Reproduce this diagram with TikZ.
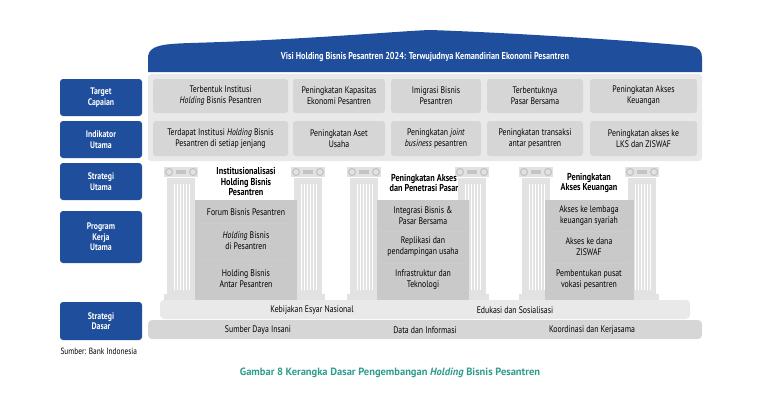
\documentclass[tikz,border=0pt]{standalone}
\usepackage{fontspec}
\setmainfont{PT Sans}[FakeStretch=0.82]
\newfontfamily\capfont{PT Sans}
\begin{document}
\begin{tikzpicture}[x=1pt,y=-1pt,
  lab/.style={fill=labblue,rounded corners=3pt,text=white,font=\fontsize{9.5}{10.5}\selectfont\bfseries,align=center,inner sep=0},
  cell/.style={fill=cellgray,rounded corners=3pt,font=\fontsize{9.5}{11}\selectfont,align=center,inner sep=0},
  hd/.style={font=\fontsize{10}{10.5}\selectfont\bfseries,align=center},
  prg/.style={font=\fontsize{9.5}{11}\selectfont,align=center}]
\definecolor{labblue}{HTML}{1F4E9C}
\definecolor{cellgray}{HTML}{D6D6D6}
\definecolor{panel}{HTML}{E9E9E9}
\definecolor{pil}{HTML}{E2E2E2}
\definecolor{pildark}{HTML}{C4C4C4}
\definecolor{prog}{HTML}{C9C9C9}
\definecolor{teal}{HTML}{2E9C8E}
\useasboundingbox (0,0) rectangle (766,410);
% roof
\fill[labblue] (148,72) -- (148,56) .. controls (150,46) and (160,44) .. (190,43) .. controls (300,40) and (400,31) .. (430,30) .. controls (520,33) and (650,42) .. (690,46) .. controls (700,47) and (702,52) .. (702,58) -- (702,72) -- cycle;
\node[text=white,font=\fontsize{10}{11}\selectfont\bfseries] (visi) at (425,57) {Visi Holding Bisnis Pesantren 2024: Terwujudnya Kemandirian Ekonomi Pesantren};
% panel
\fill[panel,rounded corners=3pt] (148,74) rectangle (702,161);
% left labels
\node[lab,minimum width=82,minimum height=37] (l1) at (101,97.5) {Target\\Capaian};
\node[lab,minimum width=82,minimum height=37] (l2) at (101,139.5) {Indikator\\Utama};
\node[lab,minimum width=82,minimum height=37] (l3) at (101,181.5) {Strategi\\Utama};
\node[lab,minimum width=82,minimum height=52] (l4) at (101,237) {Program\\Kerja\\Utama};
\node[lab,minimum width=82,minimum height=38] (l5) at (101,321) {Strategi\\Dasar};
% row cells
\node[cell,minimum width=135,minimum height=34] (a1) at (220.5,96) {Terbentuk Institusi\\\textit{Holding} Bisnis Pesantren};
\node[cell,minimum width=92,minimum height=34] (a2) at (339,96) {Peningkatan Kapasitas\\Ekonomi Pesantren};
\node[cell,minimum width=90,minimum height=34] (a3) at (436,96) {Imigrasi Bisnis\\Pesantren};
\node[cell,minimum width=96,minimum height=34] (a4) at (535,96) {Terbentuknya\\Pasar Bersama};
\node[cell,minimum width=107,minimum height=34] (a5) at (643.5,96) {Peningkatan Akses\\Keuangan};
\node[cell,minimum width=135,minimum height=35] (b1) at (220.5,138.5) {Terdapat Institusi \textit{Holding} Bisnis\\Pesantren di setiap jenjang};
\node[cell,minimum width=92,minimum height=35] (b2) at (339,138.5) {Peningkatan Aset\\Usaha};
\node[cell,minimum width=90,minimum height=35] (b3) at (436,138.5) {Peningkatan \textit{joint}\\\textit{business} pesantren};
\node[cell,minimum width=96,minimum height=35] (b4) at (535,138.5) {Peningkatan transaksi\\antar pesantren};
\node[cell,minimum width=107,minimum height=35] (b5) at (643.5,138.5) {Peningkatan akses ke\\LKS dan ZISWAF};
% pillars
\foreach \px in {181,308,364,472,536,642}{
  \fill[pil] (\px-17,167) rectangle (\px+17,177);
  \draw[pildark,line width=1.2] (\px-12,172) circle (3.5) (\px+12,172) circle (3.5);
  \fill[pildark] (\px-5,170) rectangle (\px+5,174);
  \fill[pil] (\px-14,178) rectangle (\px+14,294);
  \foreach \d in {-7,-4,-1,2,5,8}{\draw[white,line width=0.8] (\px+\d,184) -- (\px+\d,290);}
  \fill[pil] (\px-17,294) rectangle (\px+17,300);
}
% pillar headings
\node[hd] (h1) at (246,182) {Institusionalisasi\\Holding Bisnis\\Pesantren};
\node[hd] (h2) at (424,183) {Peningkatan Akses\\dan Penetrasi Pasar};
\node[hd] (h3) at (589,183) {Peningkatan\\Akses Keuangan};
% program boxes
\fill[prog] (195,200) rectangle (297,300);
\draw[white!80!black] (199,223) -- (293,223) (199,259) -- (293,259);
\node[prg] (p11) at (246,212) {Forum Bisnis Pesantren};
\node[prg] (p12) at (246,241) {\textit{Holding} Bisnis\\di Pesantren};
\node[prg] (p13) at (246,279) {Holding Bisnis\\Antar Pesantren};
\fill[prog] (377,200) rectangle (469,300);
\draw[white!80!black] (377,231) -- (469,231) (377,263) -- (469,263);
\node[prg] (p21) at (423,216) {Integrasi Bisnis \&\\Pasar Bersama};
\node[prg] (p22) at (423,247) {Replikasi dan\\pendampingan usaha};
\node[prg] (p23) at (423,280) {Infrastruktur dan\\Teknologi};
\fill[prog] (545,200) rectangle (634,300);
\draw[white!80!black] (549,231) -- (630,231) (549,263) -- (630,263);
\node[prg] (p31) at (589,216) {Akses ke lembaga\\keuangan syariah};
\node[prg] (p32) at (589,247) {Akses ke dana\\ZISWAF};
\node[prg] (p33) at (589,280) {Pembentukan pusat\\vokasi pesantren};
% base bars
\fill[panel,rounded corners=4pt] (160,300) rectangle (690,319);
\node[prg] (k1) at (312,310) {Kebijakan Esyar Nasional};
\node[prg] (k2) at (515,310) {Edukasi dan Sosialisasi};
\fill[cellgray,rounded corners=4pt] (148,320) rectangle (702,339);
\node[prg] (s1) at (258,330) {Sumber Daya Insani};
\node[prg] (s2) at (425,330) {Data dan Informasi};
\node[prg] (s3) at (592,330) {Koordinasi dan Kerjasama};
% source & caption
\node[anchor=west,font=\fontsize{9}{10}\selectfont] (src) at (57,351) {Sumber: Bank Indonesia};
\node[font=\capfont\fontsize{10.5}{12}\selectfont\bfseries,text=teal] (cap) at (390,373) {Gambar 8 Kerangka Dasar Pengembangan \textit{Holding} Bisnis Pesantren};
\end{tikzpicture}
\end{document}
